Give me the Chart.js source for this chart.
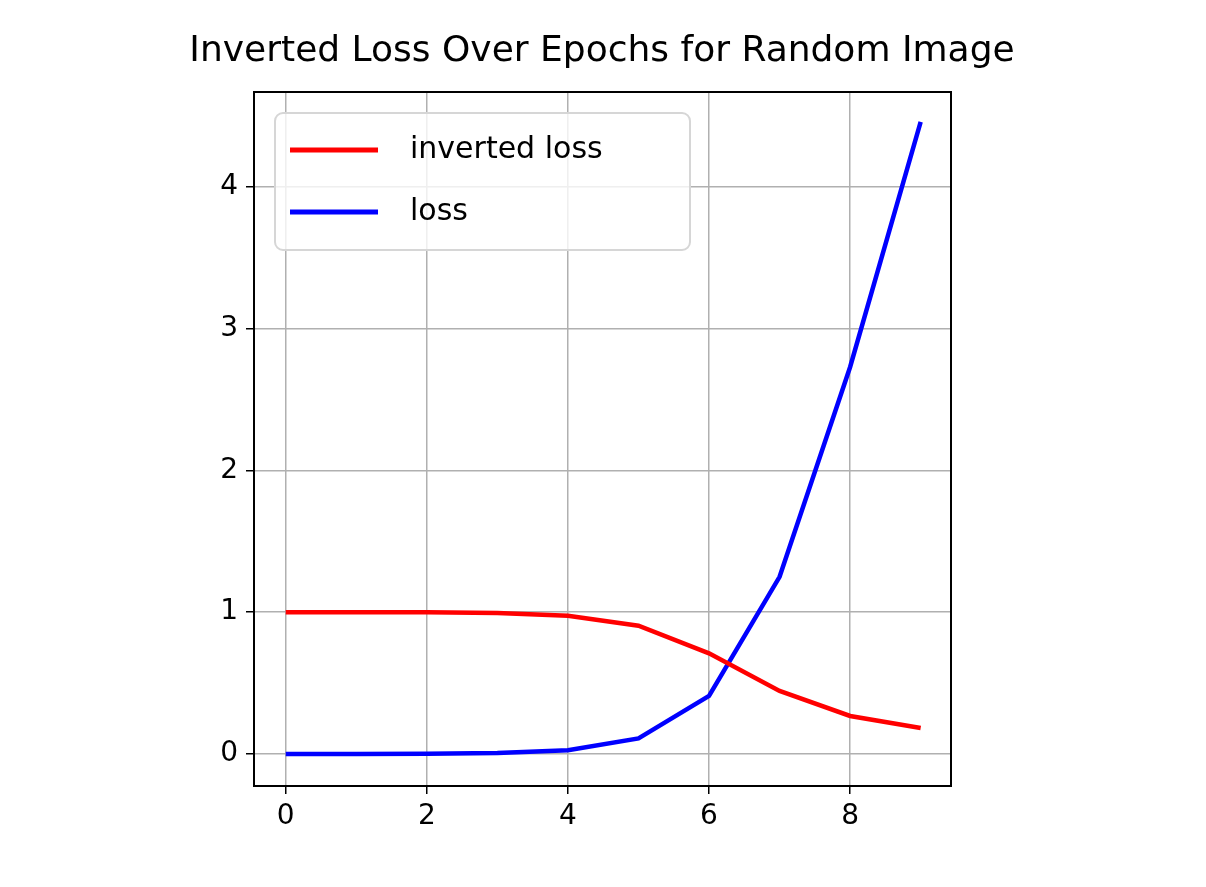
<!DOCTYPE html>
<html><head><meta charset="utf-8">
<script src="https://cdn.jsdelivr.net/npm/chart.js@4"></script>
<style>html,body{margin:0;padding:0;background:#fff}#c{display:block}</style>
</head><body>
<div style="width:1206px;height:887px"><canvas id="c"></canvas></div>
<script>
const epochs = [0,1,2,3,4,5,6,7,8,9];
const invertedLoss = [1.0,1.0,1.0,0.995,0.975,0.905,0.71,0.445,0.268,0.183];
const loss = [0.0,0.0002,0.002,0.006,0.027,0.11,0.41,1.25,2.73,4.46];
const xTicks = [0,2,4,6,8];
const yTicks = [0,1,2,3,4];
const font = "'DejaVu Sans', sans-serif";

const frame = {
  id:'frame',
  afterDraw(ch){
    const c=ch.ctx,a=ch.chartArea;
    c.save();
    c.strokeStyle='#000';c.lineWidth=2;
    c.strokeRect(a.left,a.top,a.right-a.left,a.bottom-a.top);
    c.fillStyle='#000';c.font='36px '+font;c.textAlign='center';c.textBaseline='middle';
    c.fillText('Inverted Loss Over Epochs for Random Image',602,52);
    const x0=a.left+21,y0=a.top+21,w=415,h=137,r=8;
    c.beginPath();c.roundRect(x0,y0,w,h,r);
    c.fillStyle='rgba(255,255,255,0.8)';c.fill();
    c.strokeStyle='#d6d6d6';c.lineWidth=2;c.stroke();
    ch.data.datasets.forEach((d,i)=>{
      const y=y0+37+i*62;
      c.strokeStyle=d.borderColor;c.lineWidth=5;
      c.beginPath();c.moveTo(x0+15,y);c.lineTo(x0+103,y);c.stroke();
      c.fillStyle='#000';c.font='30px '+font;c.textAlign='left';
      c.fillText(d.label,x0+135,y);
    });
    c.restore();
  }
};

new Chart(document.getElementById('c'),{
  type:'line',
  data:{datasets:[
    {label:'inverted loss',data:epochs.map((e,i)=>({x:e,y:invertedLoss[i]})),borderColor:'#ff0000',borderWidth:4.5,pointRadius:0,tension:0},
    {label:'loss',data:epochs.map((e,i)=>({x:e,y:loss[i]})),borderColor:'#0000ff',borderWidth:4.5,pointRadius:0,tension:0}
  ]},
  options:{
    responsive:true,maintainAspectRatio:false,animation:false,
    layout:{padding:{left:0,right:255,top:92,bottom:0}},
    plugins:{legend:{display:false},title:{display:false},tooltip:{enabled:false}},
    scales:{
      x:{type:'linear',min:-0.45,max:9.43,
        afterBuildTicks(s){s.ticks=xTicks.map(v=>({value:v}));},
        afterFit(s){s.height=101;},
        grid:{color:'#b0b0b0',lineWidth:1.5,tickColor:'#000',tickLength:8},
        border:{display:false},
        ticks:{color:'#000',font:{size:28,family:font},padding:6,maxRotation:0}},
      y:{min:-0.226,max:4.67,
        afterBuildTicks(s){s.ticks=yTicks.map(v=>({value:v}));},
        afterFit(s){s.width=254;},
        grid:{color:'#b0b0b0',lineWidth:1.5,tickColor:'#000',tickLength:8},
        border:{display:false},
        ticks:{color:'#000',font:{size:28,family:font},padding:8}}
    }
  },
  plugins:[frame]
});
</script></body></html>
